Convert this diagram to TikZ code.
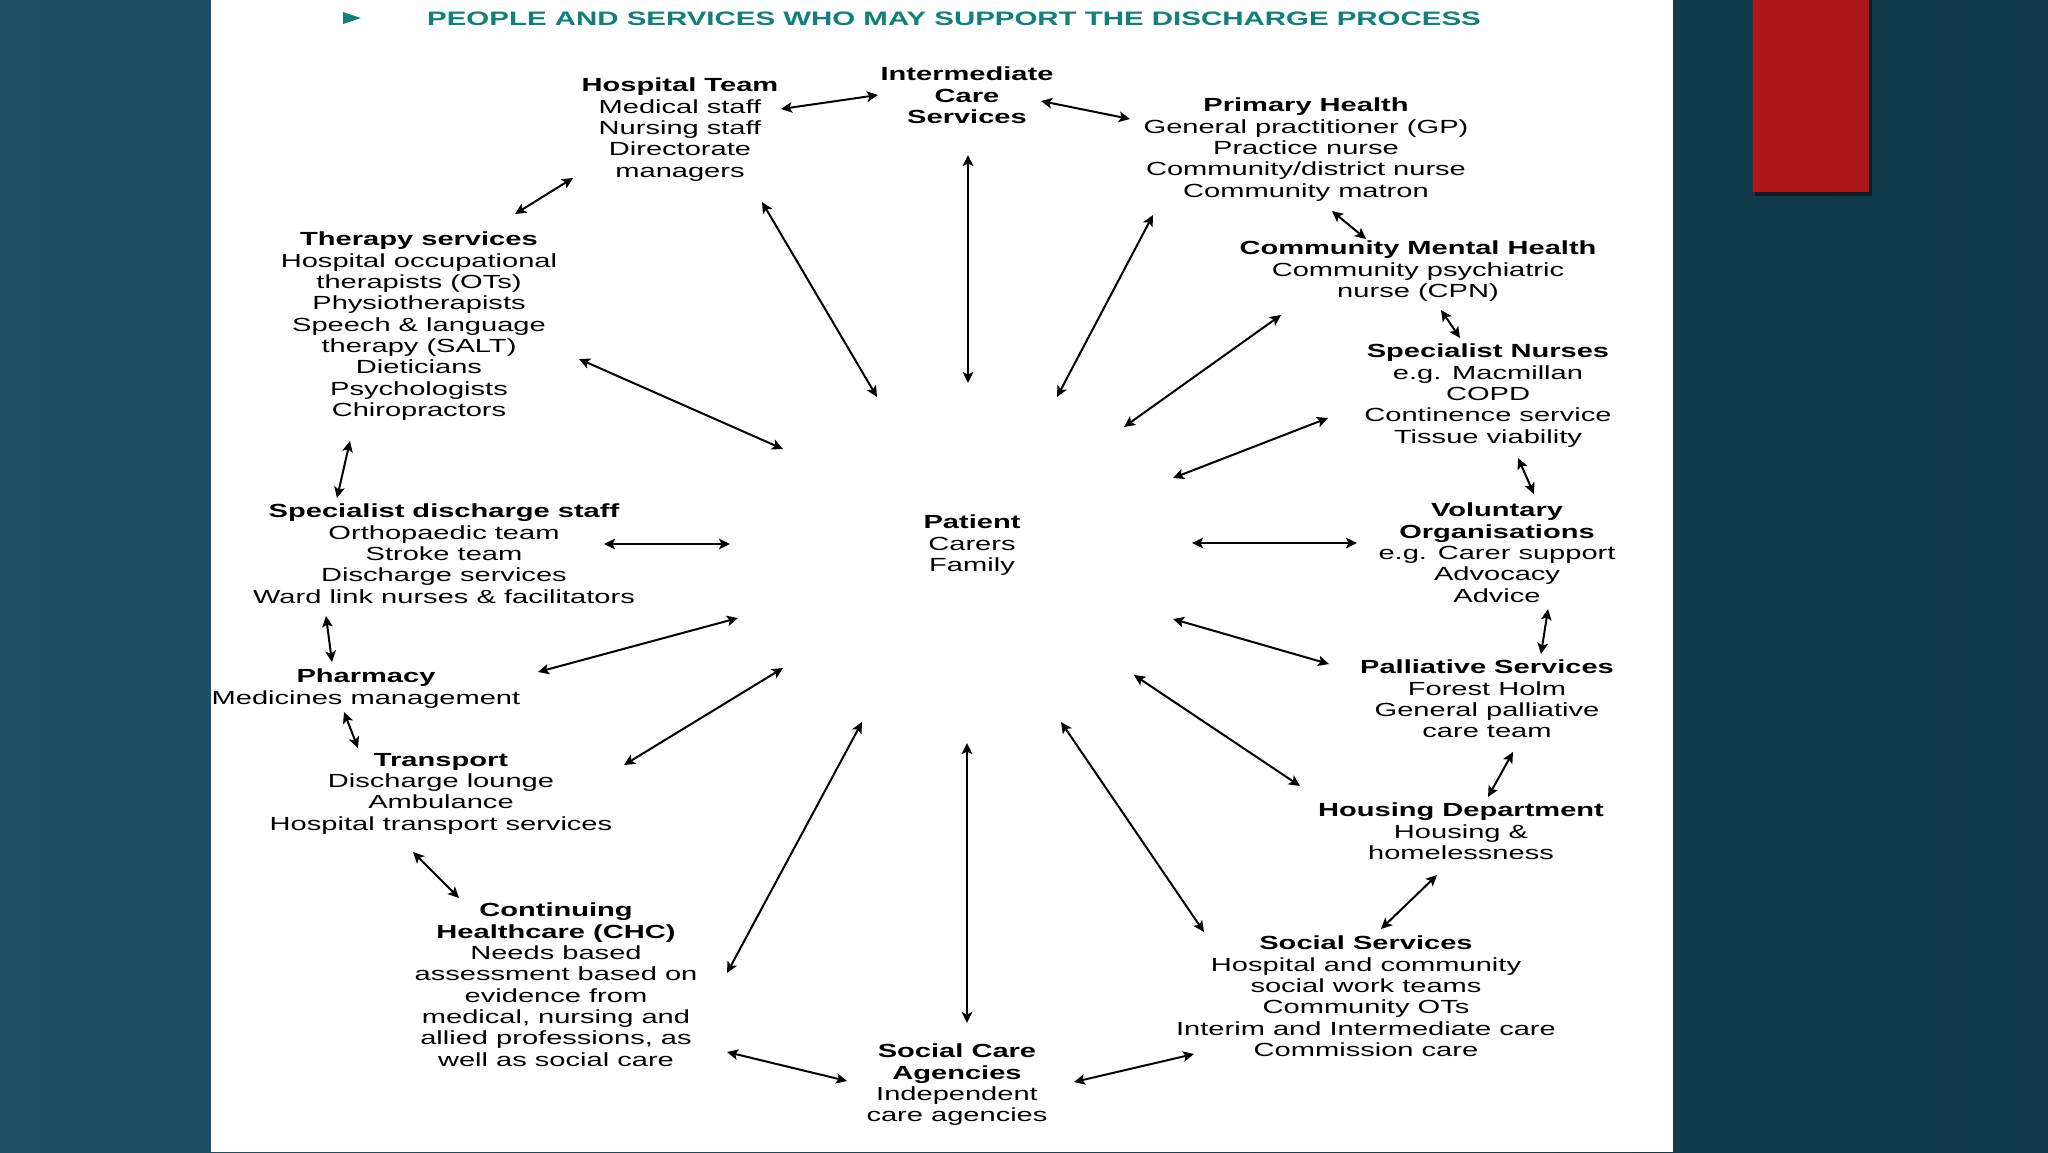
\documentclass[tikz,border=0pt]{standalone}
\usepackage{fontspec}
\setmainfont{Liberation Sans}[FakeStretch=1.53]
\newfontfamily\titlefont{Liberation Sans}[FakeStretch=1.51]
\usetikzlibrary{arrows.meta}
\definecolor{bgl}{HTML}{1D5262}
\definecolor{bgr}{HTML}{0F3747}
\definecolor{titleteal}{HTML}{10807D}
\definecolor{slidered}{HTML}{AE1717}
\begin{document}
\begin{tikzpicture}[x=1pt,y=-1pt,
  lab/.style={align=center, inner sep=0pt, anchor=north, font=\fontsize{19}{21.3}\selectfont},
  link/.style={line width=2pt, {Stealth[length=11pt,width=10.5pt,inset=2.5pt]}-{Stealth[length=11pt,width=10.5pt,inset=2.5pt]}}]
% background
\shade[left color=bgl, right color=bgr] (0,0) rectangle (2048,1152);
\useasboundingbox (0,0) rectangle (2048,1152);
\fill[white] (211,0) rectangle (1673,1152);
\fill[black, opacity=0.45] (1755,0) rectangle (1872,196);
\fill[slidered] (1753,0) rectangle (1869,192);
% title
\fill[titleteal] (343,12) -- (361,18) -- (343,24) -- cycle;
\node[anchor=base west, inner sep=0pt, text=titleteal, font=\titlefont\bfseries\fontsize{19.5}{22}\selectfont] (title) at (427,25) {PEOPLE AND SERVICES WHO MAY SUPPORT THE DISCHARGE PROCESS};
% nodes (y = top of first line)
\node[lab] (hosp) at (680,78) {{\bfseries Hospital Team}\\Medical staff\\Nursing staff\\Directorate\\managers};
\node[lab] (inter) at (967,67) {{\bfseries Intermediate}\\{\bfseries Care}\\{\bfseries Services}};
\node[lab] (prim) at (1306,98) {{\bfseries Primary Health}\\General practitioner (GP)\\Practice nurse\\Community/district nurse\\Community matron};
\node[lab] (cmh) at (1418,241) {{\bfseries Community Mental Health}\\Community psychiatric\\nurse (CPN)};
\node[lab] (specn) at (1488,344) {{\bfseries Specialist Nurses}\\e.g. Macmillan\\COPD\\Continence service\\Tissue viability};
\node[lab] (ther) at (419,232) {{\bfseries Therapy services}\\Hospital occupational\\therapists (OTs)\\Physiotherapists\\Speech \& language\\therapy (SALT)\\Dieticians\\Psychologists\\Chiropractors};
\node[lab] (sdis) at (444,504) {{\bfseries Specialist discharge staff}\\Orthopaedic team\\Stroke team\\Discharge services\\Ward link nurses \& facilitators};
\node[lab] (pat) at (972,515) {{\bfseries Patient}\\Carers\\Family};
\node[lab] (vol) at (1497,503) {{\bfseries Voluntary}\\{\bfseries Organisations}\\e.g. Carer support\\Advocacy\\Advice};
\node[lab] (pharm) at (366,669) {{\bfseries Pharmacy}\\Medicines management};
\node[lab] (trans) at (441,753) {{\bfseries Transport}\\Discharge lounge\\Ambulance\\Hospital transport services};
\node[lab] (pall) at (1487,660) {{\bfseries Palliative Services}\\Forest Holm\\General palliative\\care team};
\node[lab] (hous) at (1461,803) {{\bfseries Housing Department}\\Housing \&\\homelessness};
\node[lab] (chc) at (556,903) {{\bfseries Continuing}\\{\bfseries Healthcare (CHC)}\\Needs based\\assessment based on\\evidence from\\medical, nursing and\\allied professions, as\\well as social care};
\node[lab] (socs) at (1366,936) {{\bfseries Social Services}\\Hospital and community\\social work teams\\Community OTs\\Interim and Intermediate care\\Commission care};
\node[lab] (sca) at (957,1044) {{\bfseries Social Care}\\{\bfseries Agencies}\\Independent\\care agencies};
% ring connector end points
\coordinate (a1s) at (781,109);  \coordinate (a1e) at (878,95);
\coordinate (a2s) at (1041,101); \coordinate (a2e) at (1130,119);
\coordinate (a3s) at (573,178);  \coordinate (a3e) at (515,214);
\coordinate (a4s) at (1332,211); \coordinate (a4e) at (1366,239);
\coordinate (a5s) at (1441,310); \coordinate (a5e) at (1460,338);
\coordinate (a6s) at (350,441);  \coordinate (a6e) at (337,498);
\coordinate (a7s) at (1518,458); \coordinate (a7e) at (1534,494);
\coordinate (a8s) at (326,616);  \coordinate (a8e) at (332,662);
\coordinate (a9s) at (1548,609); \coordinate (a9e) at (1541,654);
\coordinate (a10s) at (344,712); \coordinate (a10e) at (358,748);
\coordinate (a11s) at (1513,752); \coordinate (a11e) at (1488,797);
\coordinate (a12s) at (413,852); \coordinate (a12e) at (459,898);
\coordinate (a13s) at (1437,875); \coordinate (a13e) at (1381,929);
\coordinate (a14s) at (727,1052); \coordinate (a14e) at (847,1081);
\coordinate (a15s) at (1074,1082); \coordinate (a15e) at (1194,1054);
\foreach \i in {1,...,15} {\draw[link] (a\i s) -- (a\i e);}
% radial connector end points
\coordinate (rhosp1) at (762,202);  \coordinate (rhosp2) at (877,397);
\coordinate (rinter1) at (968,155); \coordinate (rinter2) at (968,383);
\coordinate (rprim1) at (1153,215); \coordinate (rprim2) at (1057,397);
\coordinate (rther1) at (579,359);  \coordinate (rther2) at (783,449);
\coordinate (rcmh1) at (1281,315);  \coordinate (rcmh2) at (1124,427);
\coordinate (rspecn1) at (1328,418); \coordinate (rspecn2) at (1173,478);
\coordinate (rsdis1) at (604,544);  \coordinate (rsdis2) at (730,544);
\coordinate (rvol1) at (1357,543);  \coordinate (rvol2) at (1192,543);
\coordinate (rpharm1) at (538,672); \coordinate (rpharm2) at (738,618);
\coordinate (rpall1) at (1329,664); \coordinate (rpall2) at (1173,619);
\coordinate (rtrans1) at (624,765); \coordinate (rtrans2) at (783,668);
\coordinate (rhous1) at (1300,786); \coordinate (rhous2) at (1134,675);
\coordinate (rchc1) at (727,973);   \coordinate (rchc2) at (862,722);
\coordinate (rsca1) at (967,1023);  \coordinate (rsca2) at (967,743);
\coordinate (rsocs1) at (1204,932); \coordinate (rsocs2) at (1061,722);
\foreach \n in {hosp,inter,prim,ther,cmh,specn,sdis,vol,pharm,pall,trans,hous,chc,sca,socs} {\draw[link] (r\n 1) -- (r\n 2);}
\end{tikzpicture}
\end{document}
